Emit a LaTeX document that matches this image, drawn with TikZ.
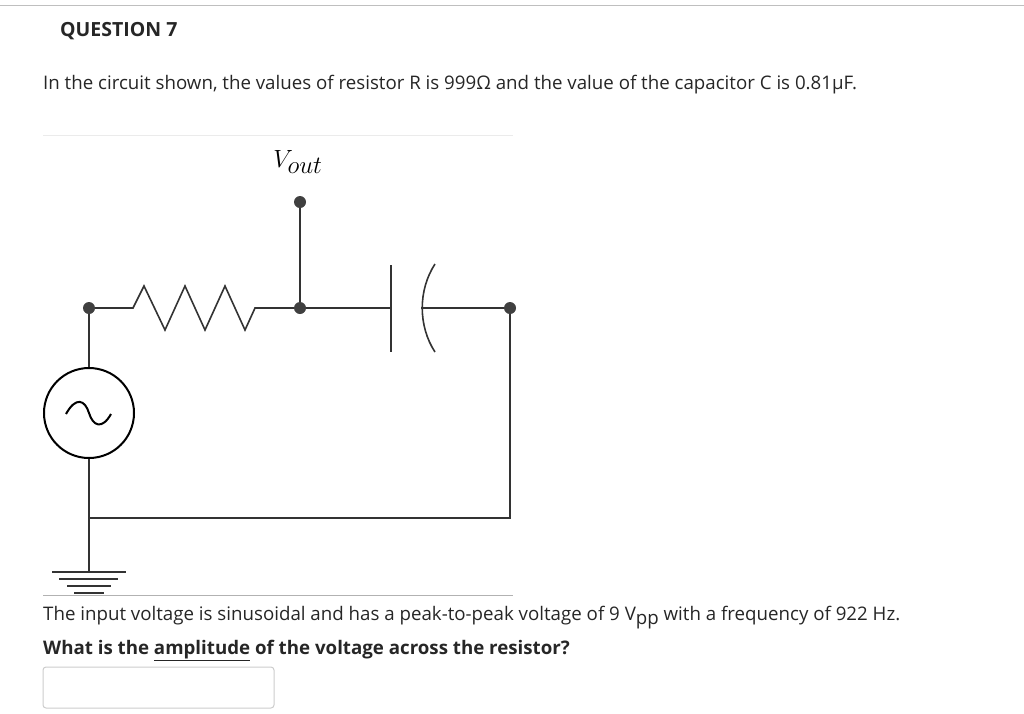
\documentclass[tikz,border=0pt]{standalone}
\usepackage{fontspec}
\setmainfont{Open Sans}
\begin{document}
\begin{tikzpicture}[x=1pt,y=-1pt,
  wire/.style={line width=1.6pt,color=black!80},
  dot/.style={circle,fill=black!75,inner sep=0pt,minimum size=12pt},
  txt/.style={anchor=base west,inner sep=0pt,font=\fontsize{18.7}{22}\selectfont,text=black!85}]
\useasboundingbox (0,0) rectangle (1024,713);
\draw[black!25,line width=1pt] (0,5) -- (1024,5);
\node[txt,font=\fontsize{19.5}{22}\selectfont\bfseries] (q) at (60,36) {QUESTION 7};
\node[txt] (t1) at (43,89) {In the circuit shown, the values of resistor R is 999Ω and the value of the capacitor C is 0.81µF.};
\draw[black!8,line width=0.8pt] (43,135) -- (513,135);
% nodes
\node[dot] (a) at (89,308) {};
\node[dot] (m) at (300,308) {};
\node[dot] (v) at (300,202) {};
\node[dot] (b) at (510,308) {};
\node[font=\fontsize{40}{44}\selectfont] (vl) at (298,162) {$V_{out}$};
\node[circle,draw,line width=2pt,minimum size=90pt,inner sep=0pt] (src) at (89,413) {};
\draw[line width=2pt] (66,414) .. controls (76,396) and (85,400) .. (89,413) .. controls (93,426) and (102,430) .. (111,414);
\coordinate (c1) at (391,308);
\coordinate (c2) at (421,308);
\coordinate (br) at (510,518);
\coordinate (bl) at (89,518);
\coordinate (g) at (89,572);
\draw[wire] (a) -- (133,308) -- (144,286) -- (165,330) -- (185,286) -- (205,330) -- (225,286) -- (245,330) -- (255,308) -- (m);
\draw[wire] (m) -- (v);
\draw[wire] (m) -- (c1);
\draw[wire] (391,265) -- (391,352);
\draw[wire] (435,264) .. controls (418,290) and (418,326) .. (435,352);
\draw[wire] (c2) -- (b);
\draw[wire] (b) -- (br) -- (bl);
\draw[wire] (a) -- (src);
\draw[wire] (src) -- (g);
\draw[wire] (52,572) -- (126,572);
\draw[wire] (59,579) -- (118,579);
\draw[wire] (67,586) -- (111,586);
\draw[wire] (74,593) -- (104,593);
\draw[black!30,line width=0.8pt] (43,595) -- (513,595);
\node[txt] (t2) at (43,620) {The input voltage is sinusoidal and has a peak-to-peak voltage of 9 V\raisebox{-4pt}{pp} with a frequency of 922 Hz.};
\node[txt,font=\fontsize{18.7}{22}\selectfont\bfseries] (t3) at (43,654) {What is the \underline{amplitude} of the voltage across the resistor?};
\draw[black!20,line width=1pt,rounded corners=3pt] (43,667) rectangle (274,708);
\end{tikzpicture}
\end{document}
